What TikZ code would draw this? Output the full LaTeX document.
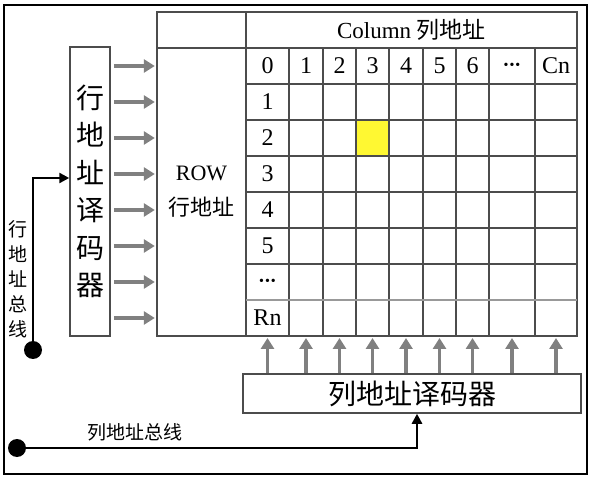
\documentclass[tikz,border=0pt]{standalone}
\usepackage{fontspec}
\setmainfont{Liberation Serif}
\newfontfamily\cjk{Noto Sans CJK SC}
\usetikzlibrary{arrows.meta,positioning}
\definecolor{cellyellow}{RGB}{255,248,50}

\begin{document}
\begin{tikzpicture}[x=1pt,y=-1pt]

\tikzstyle{frame}=[draw=black,line width=2pt]
\tikzstyle{gridline}=[draw=black!70,line width=1.5pt]
\tikzstyle{decoder}=[draw=black!70,line width=1.5pt,inner sep=0pt]
\tikzstyle{celltext}=[font=\fontsize{24}{24}\selectfont]
\tikzstyle{wordline}=[draw=black!50,line width=3.8pt,-{Triangle[length=11pt,width=13pt]},shorten <=3pt,shorten >=2pt]
\tikzstyle{bus}=[draw=black,line width=2.4pt,-{Triangle[length=10pt,width=10pt]}]
\tikzstyle{busdot}=[circle,fill=black,minimum size=18pt,inner sep=0pt]

\newcommand{\celldots}{{\fontsize{14}{14}\selectfont\textbullet\kern1pt\textbullet\kern1pt\textbullet}}

\useasboundingbox (0,0) rectangle (592,478);
\draw[frame] (4,5) rectangle (587,474);

%selected cell (row 2, column 3)
\fill[cellyellow] (356,120) rectangle (389,156);

%memory array
\draw[gridline] (157,12) rectangle (577,336);
\draw[gridline] (157,48) -- (577,48);
\draw[gridline] (246,12) -- (246,336);
\foreach \x in {289,323,356,389,423,456,489,535}
  \draw[gridline] (\x,48) -- (\x,336);
\foreach \y in {84,120,156,192,228,264}
  \draw[gridline] (246,\y) -- (577,\y);
\draw[gridline,draw=black!40] (246,300) -- (577,300);

\node[celltext,font=\fontsize{23}{23}\selectfont] (hdr) at (411.5,30) {Column {\cjk 列地址}};

%column addresses
\foreach \n/\x in {0/267.5,1/306,2/339.5,3/372.5,4/406,5/439.5,6/472.5}
  \node[celltext] (c\n) at (\x,66) {\n};
\node[celltext] (cd) at (512,66) {\celldots};
\node[celltext] (cn) at (556,66) {Cn};

%row addresses
\foreach \n/\y in {1/102,2/138,3/174,4/210,5/246}
  \node[celltext] (r\n) at (267.5,\y) {\n};
\node[celltext] (rd) at (267.5,282) {\celldots};
\node[celltext] (rn) at (267.5,318) {Rn};

\node[inner sep=0pt,minimum width=89pt,minimum height=288pt,align=center,
      font=\fontsize{22}{35}\selectfont] (rowcol) at (201.5,192) {ROW\\{\cjk 行地址}};

%row decoder
\node[decoder,minimum width=40pt,minimum height=289pt,align=center,
      font=\cjk\fontsize{28}{37.5}\selectfont] (rdec) at (90,191.5) {行\\地\\址\\译\\码\\器};

\foreach \r in {c0,r1,r2,r3,r4,r5,rd,rn}
  \draw[wordline] (rdec.east |- \r) -- (rowcol.west |- \r);

%column decoder
\node[decoder,minimum width=338pt,minimum height=39pt,
      font=\cjk\fontsize{28}{28}\selectfont] (cdec) at (412,393.5) {列地址译码器};

\coordinate (gb) at (0,336);
\foreach \c in {c0,c1,c2,c3,c4,c5,c6,cd,cn}
  \draw[wordline,shorten <=0pt] (cdec.north -| \c) -- (\c |- gb);

%row address bus
\node[busdot] (rbus) at (33,350) {};
\draw[bus] (rbus.center) |- ([yshift=13.5pt]rdec.west);
\node[align=center,font=\cjk\fontsize{19}{25}\selectfont] (rlab) at (18,279) {行\\地\\址\\总\\线};

%column address bus
\node[busdot] (cbus) at (17,448) {};
\draw[bus] (cbus.center) -| ([xshift=5pt]cdec.south);
\node[font=\cjk\fontsize{19}{19}\selectfont] (clab) at (135,432) {列地址总线};

\end{tikzpicture}
\end{document}
